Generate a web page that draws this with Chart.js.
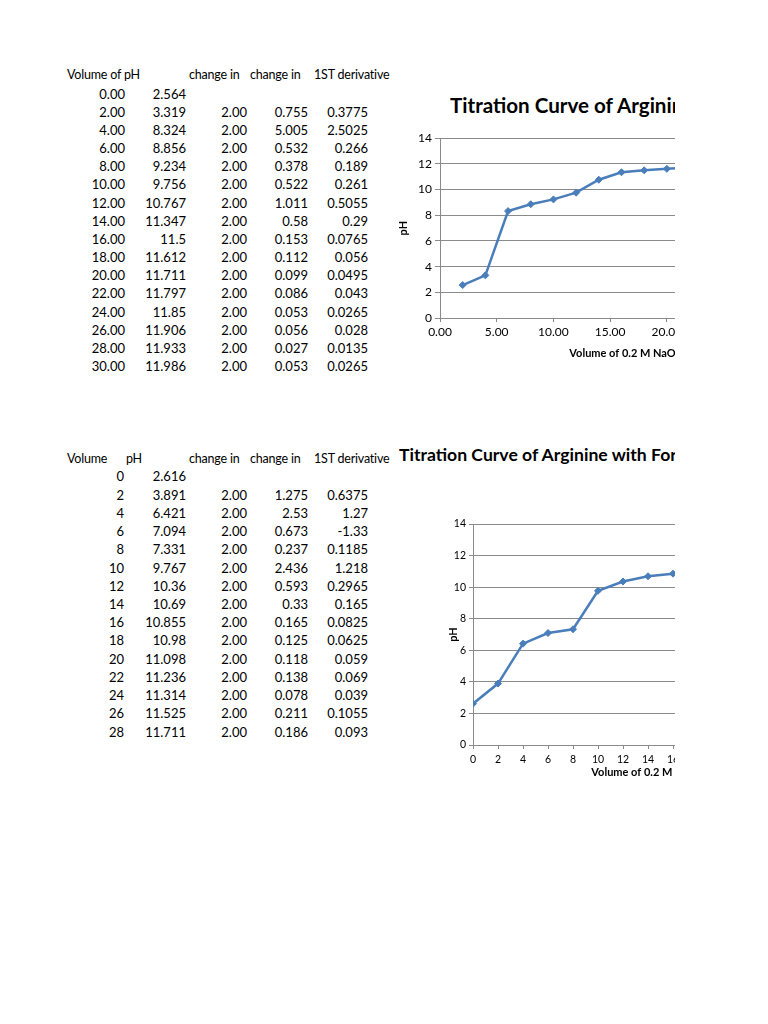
<!DOCTYPE html>
<html>
<head>
<meta charset="utf-8">
<title>Titration Curve of Arginine</title>
<script src="https://cdn.jsdelivr.net/npm/chart.js"></script>
<style>
  body { margin: 0; width: 768px; height: 1024px; position: relative; background: #fff; font-family: Lato, "Open Sans", sans-serif; color: #000; overflow: hidden; }
  .cell { position: absolute; font-size: 13px; line-height: 18px; white-space: nowrap; }
  .num { width: 80px; text-align: right; }
  .head { font-size: 12.5px; letter-spacing: -0.2px; }
  .clip { position: absolute; overflow: hidden; }
  .ctitle { position: absolute; font-weight: bold; white-space: nowrap; }
  canvas { position: absolute; }
</style>
</head>
<body>

<div id="table1"></div>
<div id="table2"></div>

<div class="clip" style="left:395px; top:80px; width:280px; height:300px;">
  <div class="ctitle" style="left:55px; top:13px; font-size:20.6px; line-height:24px;">Titration Curve of Arginine</div>
  <canvas id="chart1" width="462" height="234" style="left:0; top:48px;"></canvas>
</div>

<div class="clip" style="left:395px; top:430px; width:280px; height:370px;">
  <div class="ctitle" style="left:4px; top:15px; font-size:17.6px; line-height:20px;">Titration Curve of Arginine with Formaldehyde</div>
  <canvas id="chart2" width="428" height="267" style="left:45px; top:84px;"></canvas>
</div>

<script>
// first titration (no formaldehyde)
const headers1 = ['Volume of', 'pH', 'change in', 'change in', '1ST derivative'];
const volume1 = [0, 2, 4, 6, 8, 10, 12, 14, 16, 18, 20, 22, 24, 26, 28, 30];
const ph1 = [2.564, 3.319, 8.324, 8.856, 9.234, 9.756, 10.767, 11.347, 11.5, 11.612, 11.711, 11.797, 11.85, 11.906, 11.933, 11.986];
const dVol1 = [null, 2, 2, 2, 2, 2, 2, 2, 2, 2, 2, 2, 2, 2, 2, 2];
const dPh1 = [null, 0.755, 5.005, 0.532, 0.378, 0.522, 1.011, 0.58, 0.153, 0.112, 0.099, 0.086, 0.053, 0.056, 0.027, 0.053];
const deriv1 = [null, 0.3775, 2.5025, 0.266, 0.189, 0.261, 0.5055, 0.29, 0.0765, 0.056, 0.0495, 0.043, 0.0265, 0.028, 0.0135, 0.0265];
// x positions of the points as they sit in the first chart
const chartVolume1 = [2, 4, 6, 8, 10, 12, 14, 16, 18, 20, 22, 24, 26, 28, 30, 32];

// second titration (with formaldehyde)
const headers2 = ['Volume', 'pH', 'change in', 'change in', '1ST derivative'];
const volume2 = [0, 2, 4, 6, 8, 10, 12, 14, 16, 18, 20, 22, 24, 26, 28];
const ph2 = [2.616, 3.891, 6.421, 7.094, 7.331, 9.767, 10.36, 10.69, 10.855, 10.98, 11.098, 11.236, 11.314, 11.525, 11.711];
const dVol2 = [null, 2, 2, 2, 2, 2, 2, 2, 2, 2, 2, 2, 2, 2, 2];
const dPh2 = [null, 1.275, 2.53, 0.673, 0.237, 2.436, 0.593, 0.33, 0.165, 0.125, 0.118, 0.138, 0.078, 0.211, 0.186];
const deriv2 = [null, 0.6375, 1.27, -1.33, 0.1185, 1.218, 0.2965, 0.165, 0.0825, 0.0625, 0.059, 0.069, 0.039, 0.1055, 0.093];

const yTicks = [0, 2, 4, 6, 8, 10, 12, 14];

function addCell(parent, text, x, y, cls, alignRight) {
  const d = document.createElement('div');
  d.className = 'cell ' + cls;
  d.textContent = text;
  d.style.top = (y - 9) + 'px';
  d.style.left = (alignRight ? x - 80 : x) + 'px';
  parent.appendChild(d);
}

function buildTable(id, headers, headX, headY, rowY, step, cols, rights) {
  const el = document.getElementById(id);
  headers.forEach((h, i) => addCell(el, h, headX[i], headY, 'head', false));
  cols[0].forEach((_, r) => {
    cols.forEach((col, c) => {
      if (col[r] == null) return;
      addCell(el, col[r], rights[c], rowY + r * step, 'num', true);
    });
  });
}

const fmt2 = v => v == null ? null : v.toFixed(2);
const raw = v => v == null ? null : String(v);

buildTable('table1', headers1, [67, 124, 189, 250, 314], 75.3, 93.5, 18.17,
  [volume1.map(fmt2), ph1.map(raw), dVol1.map(fmt2), dPh1.map(raw), deriv1.map(raw)],
  [125, 186, 247, 308, 368]);

buildTable('table2', headers2, [67, 126, 189, 250, 314], 458.5, 476.3, 18.24,
  [volume2.map(raw), ph2.map(raw), dVol2.map(fmt2), dPh2.map(raw), deriv2.map(raw)],
  [124, 186, 247, 308, 368]);

Chart.defaults.font.family = 'Lato, "Open Sans", sans-serif';
Chart.defaults.color = '#000';

const blue = 'rgb(74,126,187)';
const gridGray = '#8a8a8a';

function makeChart(id, xs, ys, o) {
  return new Chart(document.getElementById(id), {
    type: 'line',
    data: {
      datasets: [{
        data: xs.map((x, i) => ({ x: x, y: ys[i] })),
        borderColor: blue,
        backgroundColor: blue,
        borderWidth: 2.5,
        pointStyle: 'rectRot',
        pointRadius: 3.5,
        pointBorderWidth: 1,
        tension: 0
      }]
    },
    options: {
      responsive: false,
      animation: false,
      layout: { padding: { top: o.padTop, right: 20, left: 0, bottom: 0 } },
      plugins: { legend: { display: false }, tooltip: { enabled: false } },
      scales: {
        x: {
          type: 'linear',
          min: 0,
          max: o.xMax,
          ticks: { stepSize: o.xStep, autoSkip: false, maxRotation: 0, padding: o.xPad, font: { size: o.tickSize }, callback: o.xFmt },
          grid: { drawOnChartArea: false, drawTicks: true, tickLength: 4, color: gridGray },
          border: { color: gridGray },
          title: { display: true, text: 'Volume of 0.2 M NaOH (mL)', font: { size: o.titleSize, weight: 'bold' }, padding: { top: 0, bottom: 2 } },
          afterFit: s => { s.height = o.xHeight; }
        },
        y: {
          min: 0,
          max: 14,
          afterBuildTicks: s => { s.ticks = yTicks.map(v => ({ value: v })); },
          ticks: { padding: 3, font: { size: o.tickSize } },
          grid: { tickLength: o.yTickLen, color: gridGray },
          border: { color: gridGray },
          title: { display: true, text: 'pH', font: { size: o.titleSize, weight: 'bold' }, padding: { top: o.yTitlePad, bottom: 0 } },
          afterFit: s => { s.width = o.yWidth; }
        }
      }
    }
  });
}

makeChart('chart1', chartVolume1, ph1, {
  padTop: 8, xMax: 35, xStep: 5, xPad: 3, tickSize: 12, titleSize: 11,
  xFmt: v => v.toFixed(2), xHeight: 44, yWidth: 45, yTickLen: 5, yTitlePad: 2
});

makeChart('chart2', volume2, ph2, {
  padTop: 10, xMax: 30, xStep: 2, xPad: 4, tickSize: 10.5, titleSize: 11,
  xFmt: v => String(v), xHeight: 36, yWidth: 33, yTickLen: 4, yTitlePad: 7
});
</script>
</body>
</html>
